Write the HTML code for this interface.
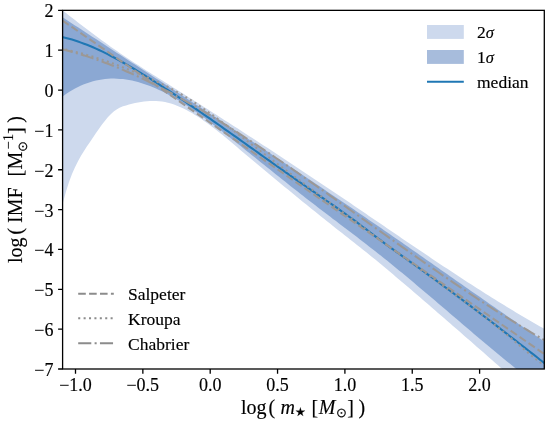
<!DOCTYPE html>
<html><head><meta charset="utf-8"><title>IMF</title>
<style>html,body{margin:0;padding:0;background:#fff;width:550px;height:425px;overflow:hidden}svg{display:block}</style>
</head><body>
<svg width="550" height="425" viewBox="0 0 550 425">
<defs><clipPath id="ax"><rect x="62.6" y="10.35" width="481.7" height="358.65"/></clipPath></defs>
<g clip-path="url(#ax)">
<polygon points="60.0,8.4 63.0,10.8 66.0,13.1 69.0,15.4 72.0,17.7 75.0,20.0 78.0,22.4 81.0,24.7 84.0,26.9 87.0,29.2 90.0,31.5 93.0,33.7 96.0,36.0 99.0,38.2 102.0,40.4 105.0,42.6 108.0,44.8 111.0,46.9 114.0,49.0 117.0,51.1 120.0,53.2 123.0,55.2 126.0,57.3 129.0,59.3 132.0,61.2 135.0,63.2 138.0,65.1 141.0,67.1 144.0,69.0 147.0,70.9 150.0,72.8 153.0,74.7 156.0,76.6 159.0,78.4 162.0,80.3 165.0,82.2 168.0,84.1 171.0,86.0 174.0,87.9 177.0,89.8 180.0,91.7 183.0,93.6 186.0,95.5 189.0,97.4 192.0,99.3 195.0,101.2 198.0,103.1 201.0,105.0 204.0,106.9 207.0,108.8 210.0,110.7 213.0,112.7 216.0,114.6 219.0,116.5 222.0,118.4 225.0,120.4 228.0,122.3 231.0,124.2 234.0,126.2 237.0,128.1 240.0,130.0 243.0,132.0 246.0,133.9 249.0,135.9 252.0,137.8 255.0,139.8 258.0,141.7 261.0,143.7 264.0,145.7 267.0,147.6 270.0,149.6 273.0,151.6 276.0,153.5 279.0,155.5 282.0,157.5 285.0,159.5 288.0,161.5 291.0,163.4 294.0,165.4 297.0,167.4 300.0,169.4 303.0,171.4 306.0,173.4 309.0,175.4 312.0,177.4 315.0,179.4 318.0,181.4 321.0,183.4 324.0,185.4 327.0,187.4 330.0,189.4 333.0,191.5 336.0,193.5 339.0,195.5 342.0,197.5 345.0,199.6 348.0,201.6 351.0,203.6 354.0,205.7 357.0,207.7 360.0,209.7 363.0,211.8 366.0,213.8 369.0,215.9 372.0,217.9 375.0,220.0 378.0,222.0 381.0,224.1 384.0,226.1 387.0,228.2 390.0,230.2 393.0,232.2 396.0,234.3 399.0,236.3 402.0,238.4 405.0,240.4 408.0,242.5 411.0,244.5 414.0,246.5 417.0,248.6 420.0,250.6 423.0,252.6 426.0,254.6 429.0,256.6 432.0,258.7 435.0,260.7 438.0,262.7 441.0,264.7 444.0,266.7 447.0,268.6 450.0,270.6 453.0,272.6 456.0,274.6 459.0,276.5 462.0,278.5 465.0,280.5 468.0,282.4 471.0,284.3 474.0,286.3 477.0,288.2 480.0,290.1 483.0,292.0 486.0,293.9 489.0,295.8 492.0,297.7 495.0,299.6 498.0,301.4 501.0,303.3 504.0,305.1 507.0,307.0 510.0,308.8 513.0,310.6 516.0,312.4 519.0,314.2 522.0,316.0 525.0,317.7 528.0,319.5 531.0,321.2 534.0,323.0 537.0,324.7 540.0,326.4 543.0,328.1 546.0,329.7 549.0,331.4 549.0,410.1 546.0,407.5 543.0,404.8 540.0,402.2 537.0,399.6 534.0,396.9 531.0,394.3 528.0,391.7 525.0,389.0 522.0,386.4 519.0,383.8 516.0,381.1 513.0,378.5 510.0,375.9 507.0,373.2 504.0,370.6 501.0,367.9 498.0,365.3 495.0,362.7 492.0,360.0 489.0,357.4 486.0,354.8 483.0,352.1 480.0,349.5 477.0,346.9 474.0,344.2 471.0,341.6 468.0,339.0 465.0,336.4 462.0,333.7 459.0,331.1 456.0,328.5 453.0,325.9 450.0,323.3 447.0,320.7 444.0,318.1 441.0,315.5 438.0,312.9 435.0,310.3 432.0,307.7 429.0,305.1 426.0,302.5 423.0,299.9 420.0,297.3 417.0,294.7 414.0,292.2 411.0,289.6 408.0,287.1 405.0,284.5 402.0,281.9 399.0,279.4 396.0,276.9 393.0,274.3 390.0,271.8 387.0,269.3 384.0,266.8 381.0,264.3 378.0,261.8 375.0,259.3 372.0,256.9 369.0,254.5 366.0,252.1 363.0,249.7 360.0,247.3 357.0,244.9 354.0,242.6 351.0,240.2 348.0,237.8 345.0,235.5 342.0,233.1 339.0,230.7 336.0,228.4 333.0,226.0 330.0,223.6 327.0,221.2 324.0,218.8 321.0,216.4 318.0,214.0 315.0,211.6 312.0,209.2 309.0,206.8 306.0,204.3 303.0,201.9 300.0,199.5 297.0,197.0 294.0,194.6 291.0,192.1 288.0,189.6 285.0,187.2 282.0,184.7 279.0,182.2 276.0,179.8 273.0,177.3 270.0,174.8 267.0,172.3 264.0,169.8 261.0,167.3 258.0,164.8 255.0,162.3 252.0,159.8 249.0,157.2 246.0,154.7 243.0,152.2 240.0,149.7 237.0,147.1 234.0,144.6 231.0,142.1 228.0,139.6 225.0,137.1 222.0,134.6 219.0,132.2 216.0,129.8 213.0,127.5 210.0,125.2 207.0,123.0 204.0,120.9 201.0,118.8 198.0,116.8 195.0,114.9 192.0,113.1 189.0,111.4 186.0,109.8 183.0,108.3 180.0,106.9 177.0,105.7 174.0,104.5 171.0,103.6 168.0,102.7 165.0,102.1 162.0,101.5 159.0,101.2 156.0,101.0 153.0,100.9 150.0,101.0 147.0,101.2 144.0,101.6 141.0,102.0 138.0,102.5 135.0,103.1 132.0,103.8 129.0,104.6 126.0,105.4 123.0,106.3 120.0,107.5 117.0,109.2 114.0,111.3 111.0,114.0 108.0,117.1 105.0,120.7 102.0,124.5 99.0,128.7 96.0,133.0 93.0,137.4 90.0,141.9 87.0,146.3 84.0,150.9 81.0,155.8 78.0,161.2 75.0,167.2 72.0,174.1 69.0,182.0 66.0,191.4 63.0,202.5 60.0,215.4" fill="#cdd9ed"/>
<polygon points="60.0,15.5 63.0,17.5 66.0,19.5 69.0,21.4 72.0,23.4 75.0,25.4 78.0,27.3 81.0,29.3 84.0,31.3 87.0,33.2 90.0,35.2 93.0,37.2 96.0,39.1 99.0,41.1 102.0,43.1 105.0,45.0 108.0,47.0 111.0,49.0 114.0,50.9 117.0,52.9 120.0,54.8 123.0,56.8 126.0,58.8 129.0,60.7 132.0,62.7 135.0,64.6 138.0,66.6 141.0,68.6 144.0,70.5 147.0,72.5 150.0,74.4 153.0,76.4 156.0,78.4 159.0,80.3 162.0,82.3 165.0,84.2 168.0,86.2 171.0,88.2 174.0,90.1 177.0,92.1 180.0,94.1 183.0,96.0 186.0,98.0 189.0,99.9 192.0,101.9 195.0,103.9 198.0,105.8 201.0,107.8 204.0,109.8 207.0,111.7 210.0,113.7 213.0,115.7 216.0,117.6 219.0,119.6 222.0,121.6 225.0,123.6 228.0,125.5 231.0,127.5 234.0,129.5 237.0,131.5 240.0,133.4 243.0,135.4 246.0,137.4 249.0,139.4 252.0,141.3 255.0,143.3 258.0,145.3 261.0,147.3 264.0,149.3 267.0,151.3 270.0,153.3 273.0,155.2 276.0,157.2 279.0,159.2 282.0,161.2 285.0,163.2 288.0,165.2 291.0,167.2 294.0,169.2 297.0,171.2 300.0,173.2 303.0,175.2 306.0,177.2 309.0,179.3 312.0,181.3 315.0,183.3 318.0,185.3 321.0,187.3 324.0,189.3 327.0,191.4 330.0,193.4 333.0,195.4 336.0,197.4 339.0,199.5 342.0,201.5 345.0,203.5 348.0,205.6 351.0,207.6 354.0,209.6 357.0,211.7 360.0,213.7 363.0,215.8 366.0,217.8 369.0,219.9 372.0,221.9 375.0,224.0 378.0,226.1 381.0,228.1 384.0,230.2 387.0,232.3 390.0,234.3 393.0,236.4 396.0,238.5 399.0,240.6 402.0,242.6 405.0,244.7 408.0,246.8 411.0,248.9 414.0,251.0 417.0,253.1 420.0,255.2 423.0,257.3 426.0,259.4 429.0,261.5 432.0,263.6 435.0,265.7 438.0,267.8 441.0,269.9 444.0,272.0 447.0,274.1 450.0,276.2 453.0,278.3 456.0,280.4 459.0,282.5 462.0,284.6 465.0,286.7 468.0,288.8 471.0,290.9 474.0,292.9 477.0,295.0 480.0,297.1 483.0,299.2 486.0,301.3 489.0,303.4 492.0,305.5 495.0,307.6 498.0,309.7 501.0,311.8 504.0,313.8 507.0,315.9 510.0,318.0 513.0,320.1 516.0,322.1 519.0,324.2 522.0,326.3 525.0,328.3 528.0,330.4 531.0,332.4 534.0,334.5 537.0,336.5 540.0,338.6 543.0,340.6 546.0,342.6 549.0,344.7 549.0,394.1 546.0,391.9 543.0,389.7 540.0,387.4 537.0,385.1 534.0,382.8 531.0,380.5 528.0,378.2 525.0,375.8 522.0,373.4 519.0,371.1 516.0,368.7 513.0,366.3 510.0,363.8 507.0,361.4 504.0,358.9 501.0,356.5 498.0,354.0 495.0,351.5 492.0,349.0 489.0,346.5 486.0,344.0 483.0,341.5 480.0,338.9 477.0,336.4 474.0,333.9 471.0,331.3 468.0,328.8 465.0,326.2 462.0,323.7 459.0,321.1 456.0,318.5 453.0,316.0 450.0,313.4 447.0,310.8 444.0,308.3 441.0,305.7 438.0,303.2 435.0,300.6 432.0,298.1 429.0,295.5 426.0,293.0 423.0,290.4 420.0,287.9 417.0,285.4 414.0,282.8 411.0,280.3 408.0,277.8 405.0,275.3 402.0,272.8 399.0,270.4 396.0,267.9 393.0,265.5 390.0,263.0 387.0,260.6 384.0,258.2 381.0,255.8 378.0,253.4 375.0,251.1 372.0,248.7 369.0,246.4 366.0,244.0 363.0,241.7 360.0,239.4 357.0,237.1 354.0,234.8 351.0,232.5 348.0,230.3 345.0,228.0 342.0,225.7 339.0,223.4 336.0,221.1 333.0,218.9 330.0,216.6 327.0,214.3 324.0,212.0 321.0,209.7 318.0,207.4 315.0,205.1 312.0,202.8 309.0,200.5 306.0,198.2 303.0,195.8 300.0,193.5 297.0,191.1 294.0,188.8 291.0,186.4 288.0,184.0 285.0,181.6 282.0,179.2 279.0,176.8 276.0,174.4 273.0,172.0 270.0,169.6 267.0,167.2 264.0,164.8 261.0,162.4 258.0,160.0 255.0,157.6 252.0,155.2 249.0,152.8 246.0,150.4 243.0,148.0 240.0,145.6 237.0,143.2 234.0,140.8 231.0,138.4 228.0,136.0 225.0,133.7 222.0,131.3 219.0,129.0 216.0,126.7 213.0,124.4 210.0,122.1 207.0,119.8 204.0,117.6 201.0,115.4 198.0,113.3 195.0,111.2 192.0,109.1 189.0,107.1 186.0,105.1 183.0,103.2 180.0,101.3 177.0,99.5 174.0,97.7 171.0,96.0 168.0,94.4 165.0,92.8 162.0,91.3 159.0,89.9 156.0,88.6 153.0,87.3 150.0,86.1 147.0,84.9 144.0,83.9 141.0,82.9 138.0,82.1 135.0,81.3 132.0,80.6 129.0,80.0 126.0,79.5 123.0,79.1 120.0,78.9 117.0,78.7 114.0,78.6 111.0,78.6 108.0,78.8 105.0,79.0 102.0,79.4 99.0,79.9 96.0,80.5 93.0,81.3 90.0,82.2 87.0,83.2 84.0,84.3 81.0,85.6 78.0,87.0 75.0,88.5 72.0,90.2 69.0,92.1 66.0,94.1 63.0,96.2 60.0,98.5" fill="#8ba8d3"/>
<polyline points="60.0,36.7 63.0,37.3 66.0,38.0 69.0,38.8 72.0,39.6 75.0,40.5 78.0,41.5 81.0,42.6 84.0,43.7 87.0,44.8 90.0,46.0 93.0,47.3 96.0,48.6 99.0,50.0 102.0,51.4 105.0,52.9 108.0,54.4 111.0,56.0 114.0,57.5 117.0,59.2 120.0,60.8 123.0,62.5 126.0,64.2 129.0,66.0 132.0,67.7 135.0,69.5 138.0,71.3 141.0,73.1 144.0,75.0 147.0,76.8 150.0,78.7 153.0,80.6 156.0,82.5 159.0,84.4 162.0,86.3 165.0,88.3 168.0,90.2 171.0,92.2 174.0,94.2 177.0,96.2 180.0,98.2 183.0,100.2 186.0,102.2 189.0,104.3 192.0,106.3 195.0,108.4 198.0,110.4 201.0,112.5 204.0,114.6 207.0,116.6 210.0,118.7 213.0,120.8 216.0,122.9 219.0,125.0 222.0,127.1 225.0,129.3 228.0,131.4 231.0,133.5 234.0,135.6 237.0,137.7 240.0,139.9 243.0,142.0 246.0,144.1 249.0,146.3 252.0,148.4 255.0,150.5 258.0,152.7 261.0,154.8 264.0,157.0 267.0,159.1 270.0,161.2 273.0,163.3 276.0,165.5 279.0,167.6 282.0,169.7 285.0,171.8 288.0,173.9 291.0,176.1 294.0,178.2 297.0,180.3 300.0,182.4 303.0,184.4 306.0,186.5 309.0,188.6 312.0,190.7 315.0,192.7 318.0,194.8 321.0,196.8 324.0,198.9 327.0,201.0 330.0,203.0 333.0,205.1 336.0,207.2 339.0,209.3 342.0,211.5 345.0,213.6 348.0,215.8 351.0,218.0 354.0,220.2 357.0,222.4 360.0,224.7 363.0,227.0 366.0,229.2 369.0,231.5 372.0,233.8 375.0,236.1 378.0,238.4 381.0,240.6 384.0,242.9 387.0,245.1 390.0,247.3 393.0,249.4 396.0,251.6 399.0,253.7 402.0,255.8 405.0,258.0 408.0,260.1 411.0,262.3 414.0,264.4 417.0,266.6 420.0,268.7 423.0,270.9 426.0,273.1 429.0,275.3 432.0,277.5 435.0,279.7 438.0,281.9 441.0,284.1 444.0,286.3 447.0,288.5 450.0,290.7 453.0,292.9 456.0,295.2 459.0,297.4 462.0,299.6 465.0,301.9 468.0,304.1 471.0,306.4 474.0,308.7 477.0,310.9 480.0,313.2 483.0,315.5 486.0,317.8 489.0,320.0 492.0,322.3 495.0,324.6 498.0,326.9 501.0,329.2 504.0,331.6 507.0,333.9 510.0,336.2 513.0,338.5 516.0,340.8 519.0,343.2 522.0,345.5 525.0,347.9 528.0,350.2 531.0,352.6 534.0,354.9 537.0,357.3 540.0,359.7 543.0,362.0 546.0,364.4 549.0,366.8" fill="none" stroke="#1f77b4" stroke-width="2.05" stroke-linejoin="round"/>
<polyline points="62.5,20.5 544.0,353.8" fill="none" stroke="#9c9895" stroke-width="2.05" stroke-dasharray="7.6,3.3"/>
<polyline points="60.0,48.3 63.0,49.0 66.0,49.6 69.0,50.3 72.0,51.0 75.0,51.8 78.0,52.5 81.0,53.3 84.0,54.1 87.0,55.0 90.0,55.8 93.0,56.7 96.0,57.7 99.0,58.6 102.0,59.6 105.0,60.7 108.0,61.7 111.0,62.8 114.0,63.9 117.0,65.0 120.0,66.2 123.0,67.4 126.0,68.6 129.0,69.8 132.0,71.0 135.0,72.2 138.0,73.5 141.0,74.8 144.0,76.0 147.0,77.3 150.0,78.6 153.0,79.9 156.0,81.3 159.0,82.7 162.0,84.1 165.0,85.5 168.0,87.0 171.0,88.6 174.0,90.2 177.0,91.8 180.0,93.5 183.0,95.3 186.0,97.2 189.0,99.0 192.0,100.9 195.0,102.9 198.0,104.9 201.0,107.0 204.0,109.0 207.0,111.1 210.0,113.3 213.0,115.4 216.0,117.6 219.0,119.8 222.0,122.0 225.0,124.2 228.0,126.5 231.0,128.7 234.0,131.0 237.0,133.2 240.0,135.5 243.0,137.8 246.0,140.1 249.0,142.3 252.0,144.6 255.0,146.9 258.0,149.2 261.0,151.5 264.0,153.8 267.0,156.0 270.0,158.3 273.0,160.6 276.0,162.8 279.0,165.1 282.0,167.3 285.0,169.6 288.0,171.8 291.0,174.0 294.0,176.2 297.0,178.5 300.0,180.7 303.0,182.9 306.0,185.1 309.0,187.3 312.0,189.5 315.0,191.8 318.0,194.0 321.0,196.2 324.0,198.4 327.0,200.6 330.0,202.8 333.0,205.1 336.0,207.3 339.0,209.5 342.0,211.7 345.0,213.9 348.0,216.1 351.0,218.4 354.0,220.6 357.0,222.8 360.0,225.0 363.0,227.2 366.0,229.4 369.0,231.6 372.0,233.8 375.0,236.1 378.0,238.3 381.0,240.5 384.0,242.7 387.0,244.9 390.0,247.1 393.0,249.3 396.0,251.5 399.0,253.7 402.0,255.9 405.0,258.1 408.0,260.3 411.0,262.5 414.0,264.7 417.0,266.9 420.0,269.1 423.0,271.3 426.0,273.5 429.0,275.6 432.0,277.8 435.0,280.0 438.0,282.2 441.0,284.4 444.0,286.6 447.0,288.8 450.0,291.0 453.0,293.2 456.0,295.4 459.0,297.6 462.0,299.8 465.0,302.0 468.0,304.3 471.0,306.5 474.0,308.8 477.0,311.1 480.0,313.4 483.0,315.7 486.0,318.0 489.0,320.3 492.0,322.7 495.0,325.1 498.0,327.5 501.0,329.9 504.0,332.3 507.0,334.8 510.0,337.3 513.0,339.8 516.0,342.4 519.0,344.9 522.0,347.5 525.0,350.1 528.0,352.6 531.0,355.1 534.0,357.6 537.0,359.9 540.0,362.2 543.0,364.4 546.0,366.4 549.0,368.3" fill="none" stroke="#9c9895" stroke-width="2.05" stroke-dasharray="2.05,3.35"/>
<polyline points="60.0,48.8 63.0,49.5 66.0,50.3 69.0,51.0 72.0,51.9 75.0,52.7 78.0,53.6 81.0,54.5 84.0,55.4 87.0,56.4 90.0,57.4 93.0,58.4 96.0,59.4 99.0,60.5 102.0,61.6 105.0,62.7 108.0,63.8 111.0,65.0 114.0,66.2 117.0,67.4 120.0,68.6 123.0,69.9 126.0,71.2 129.0,72.5 132.0,73.8 135.0,75.2 138.0,76.5 141.0,77.9 144.0,79.4 147.0,80.8 150.0,82.3 153.0,83.7 156.0,85.2 159.0,86.8 162.0,88.3 165.0,89.9 168.0,91.4 171.0,93.0 174.0,94.6 177.0,96.3 180.0,97.9 183.0,99.6 186.0,101.3 189.0,103.0 192.0,104.7 195.0,106.4 198.0,108.2 201.0,109.9 204.0,111.7 207.0,113.5 210.0,115.3 213.0,117.1 216.0,118.9 219.0,120.8 222.0,122.7 225.0,124.5 228.0,126.4 231.0,128.3 234.0,130.2 237.0,132.1 240.0,134.1 243.0,136.0 246.0,138.0 249.0,139.9 252.0,141.9 255.0,143.9 258.0,145.9 261.0,147.9 264.0,149.9 267.0,151.9 270.0,153.9 273.0,155.9 276.0,158.0 279.0,160.0 282.0,162.0 285.0,164.1 288.0,166.2 291.0,168.2 294.0,170.3 297.0,172.4 300.0,174.5 303.0,176.6 306.0,178.7 309.0,180.8 312.0,182.9 315.0,185.0 318.0,187.1 321.0,189.2 324.0,191.3 327.0,193.4 330.0,195.6 333.0,197.7 336.0,199.8 339.0,202.0 342.0,204.1 345.0,206.2 348.0,208.4 351.0,210.5 354.0,212.6 357.0,214.8 360.0,216.9 363.0,219.1 366.0,221.2 369.0,223.3 372.0,225.5 375.0,227.6 378.0,229.8 381.0,231.9 384.0,234.0 387.0,236.2 390.0,238.3 393.0,240.4 396.0,242.6 399.0,244.7 402.0,246.8 405.0,248.9 408.0,251.1 411.0,253.2 414.0,255.3 417.0,257.4 420.0,259.5 423.0,261.6 426.0,263.7 429.0,265.8 432.0,267.9 435.0,269.9 438.0,272.0 441.0,274.1 444.0,276.2 447.0,278.2 450.0,280.3 453.0,282.3 456.0,284.3 459.0,286.4 462.0,288.4 465.0,290.4 468.0,292.4 471.0,294.4 474.0,296.4 477.0,298.4 480.0,300.3 483.0,302.3 486.0,304.3 489.0,306.2 492.0,308.1 495.0,310.1 498.0,312.0 501.0,313.9 504.0,315.8 507.0,317.6 510.0,319.5 513.0,321.4 516.0,323.2 519.0,325.1 522.0,326.9 525.0,328.7 528.0,330.5 531.0,332.3 534.0,334.1 537.0,335.8 540.0,337.6 543.0,339.3 546.0,341.0 549.0,342.7" fill="none" stroke="#9c9895" stroke-width="2.05" stroke-dasharray="13.1,3.3,2.05,3.3"/>
</g>
<rect x="62.6" y="10.35" width="481.69999999999993" height="358.65" fill="none" stroke="#000" stroke-width="1.3"/>
<path d="M58.1,369.00H62.6M58.1,329.15H62.6M58.1,289.30H62.6M58.1,249.45H62.6M58.1,209.60H62.6M58.1,169.75H62.6M58.1,129.90H62.6M58.1,90.05H62.6M58.1,50.20H62.6M58.1,10.35H62.6M75.50,369.0V373.7M142.85,369.0V373.7M210.20,369.0V373.7M277.55,369.0V373.7M344.90,369.0V373.7M412.25,369.0V373.7M479.60,369.0V373.7" stroke="#000" stroke-width="1.3" fill="none"/>
<text x="53.5" y="376.0" font-family="Liberation Serif, Times New Roman, serif" stroke="#000" stroke-width="0.15" font-size="18" text-anchor="end">−7</text>
<text x="53.5" y="336.1" font-family="Liberation Serif, Times New Roman, serif" stroke="#000" stroke-width="0.15" font-size="18" text-anchor="end">−6</text>
<text x="53.5" y="296.3" font-family="Liberation Serif, Times New Roman, serif" stroke="#000" stroke-width="0.15" font-size="18" text-anchor="end">−5</text>
<text x="53.5" y="256.4" font-family="Liberation Serif, Times New Roman, serif" stroke="#000" stroke-width="0.15" font-size="18" text-anchor="end">−4</text>
<text x="53.5" y="216.6" font-family="Liberation Serif, Times New Roman, serif" stroke="#000" stroke-width="0.15" font-size="18" text-anchor="end">−3</text>
<text x="53.5" y="176.7" font-family="Liberation Serif, Times New Roman, serif" stroke="#000" stroke-width="0.15" font-size="18" text-anchor="end">−2</text>
<text x="53.5" y="136.9" font-family="Liberation Serif, Times New Roman, serif" stroke="#000" stroke-width="0.15" font-size="18" text-anchor="end">−1</text>
<text x="53.5" y="97.0" font-family="Liberation Serif, Times New Roman, serif" stroke="#000" stroke-width="0.15" font-size="18" text-anchor="end">0</text>
<text x="53.5" y="57.2" font-family="Liberation Serif, Times New Roman, serif" stroke="#000" stroke-width="0.15" font-size="18" text-anchor="end">1</text>
<text x="53.5" y="17.4" font-family="Liberation Serif, Times New Roman, serif" stroke="#000" stroke-width="0.15" font-size="18" text-anchor="end">2</text>
<text x="75.5" y="391" font-family="Liberation Serif, Times New Roman, serif" stroke="#000" stroke-width="0.15" font-size="18" text-anchor="middle">−1.0</text>
<text x="142.8" y="391" font-family="Liberation Serif, Times New Roman, serif" stroke="#000" stroke-width="0.15" font-size="18" text-anchor="middle">−0.5</text>
<text x="210.2" y="391" font-family="Liberation Serif, Times New Roman, serif" stroke="#000" stroke-width="0.15" font-size="18" text-anchor="middle">0.0</text>
<text x="277.5" y="391" font-family="Liberation Serif, Times New Roman, serif" stroke="#000" stroke-width="0.15" font-size="18" text-anchor="middle">0.5</text>
<text x="344.9" y="391" font-family="Liberation Serif, Times New Roman, serif" stroke="#000" stroke-width="0.15" font-size="18" text-anchor="middle">1.0</text>
<text x="412.2" y="391" font-family="Liberation Serif, Times New Roman, serif" stroke="#000" stroke-width="0.15" font-size="18" text-anchor="middle">1.5</text>
<text x="479.6" y="391" font-family="Liberation Serif, Times New Roman, serif" stroke="#000" stroke-width="0.15" font-size="18" text-anchor="middle">2.0</text>
<text x="241" y="414" font-family="Liberation Serif, Times New Roman, serif" stroke="#000" stroke-width="0.15" font-size="20">log</text>
<text x="268.6" y="414" font-family="Liberation Serif, Times New Roman, serif" stroke="#000" stroke-width="0.15" font-size="20">(</text>
<text x="280.5" y="414" font-family="Liberation Serif, Times New Roman, serif" stroke="#000" stroke-width="0.15" font-size="20" font-style="italic">m</text>
<text x="295.4" y="415.7" font-family="Liberation Serif, Times New Roman, serif" stroke="#000" stroke-width="0.15" font-size="12">★</text>
<text x="311.5" y="414" font-family="Liberation Serif, Times New Roman, serif" stroke="#000" stroke-width="0.15" font-size="20">[</text>
<text x="318.8" y="414" font-family="Liberation Serif, Times New Roman, serif" stroke="#000" stroke-width="0.15" font-size="20" font-style="italic">M</text>
<text x="335.6" y="416.6" font-family="Liberation Serif, Times New Roman, serif" stroke="#000" stroke-width="0.15" font-size="13">⊙</text>
<text x="347.3" y="414" font-family="Liberation Serif, Times New Roman, serif" stroke="#000" stroke-width="0.15" font-size="20">]</text>
<text x="358.6" y="414" font-family="Liberation Serif, Times New Roman, serif" stroke="#000" stroke-width="0.15" font-size="20">)</text>
<g transform="translate(22.3,263) rotate(-90)">
<text x="0" y="0" font-family="Liberation Serif, Times New Roman, serif" stroke="#000" stroke-width="0.15" font-size="20">log</text>
<text x="28.5" y="0" font-family="Liberation Serif, Times New Roman, serif" stroke="#000" stroke-width="0.15" font-size="20">(</text>
<text x="40" y="0" font-family="Liberation Serif, Times New Roman, serif" stroke="#000" stroke-width="0.15" font-size="20">IMF</text>
<text x="86.5" y="0" font-family="Liberation Serif, Times New Roman, serif" stroke="#000" stroke-width="0.15" font-size="20">[</text>
<text x="93.5" y="0" font-family="Liberation Serif, Times New Roman, serif" stroke="#000" stroke-width="0.15" font-size="20">M</text>
<text x="111.5" y="4.9" font-family="Liberation Serif, Times New Roman, serif" stroke="#000" stroke-width="0.15" font-size="13">⊙</text>
<text x="114" y="-9.5" font-family="Liberation Serif, Times New Roman, serif" stroke="#000" stroke-width="0.15" font-size="14">−1</text>
<text x="129" y="0" font-family="Liberation Serif, Times New Roman, serif" stroke="#000" stroke-width="0.15" font-size="20">]</text>
<text x="140.3" y="0" font-family="Liberation Serif, Times New Roman, serif" stroke="#000" stroke-width="0.15" font-size="20">)</text>
</g>
<rect x="427" y="25" width="36.8" height="13.9" fill="#cdd9ed"/>
<rect x="427" y="50" width="36.8" height="13.9" fill="#a7bcdc"/>
<line x1="427" y1="81.7" x2="463.8" y2="81.7" stroke="#1f77b4" stroke-width="2.05"/>
<text x="477" y="37.8" font-family="Liberation Serif, Times New Roman, serif" stroke="#000" stroke-width="0.15" font-size="17.5">2<tspan font-style="italic" font-size="16.5">σ</tspan></text>
<text x="477" y="62.8" font-family="Liberation Serif, Times New Roman, serif" stroke="#000" stroke-width="0.15" font-size="17.5">1<tspan font-style="italic" font-size="16.5">σ</tspan></text>
<text x="477" y="87.5" font-family="Liberation Serif, Times New Roman, serif" stroke="#000" stroke-width="0.15" font-size="17.5">median</text>
<line x1="78.2" y1="293.8" x2="113.8" y2="293.8" stroke="#8c8c8c" stroke-width="2.05" stroke-dasharray="7.6,3.3"/>
<line x1="78.2" y1="318.3" x2="113.8" y2="318.3" stroke="#8c8c8c" stroke-width="2.05" stroke-dasharray="2.05,3.35"/>
<line x1="78.2" y1="343.3" x2="113.8" y2="343.3" stroke="#8c8c8c" stroke-width="2.05" stroke-dasharray="13.1,3.3,2.05,3.3"/>
<text x="128" y="299.5" font-family="Liberation Serif, Times New Roman, serif" stroke="#000" stroke-width="0.15" font-size="17.5">Salpeter</text>
<text x="128" y="324.5" font-family="Liberation Serif, Times New Roman, serif" stroke="#000" stroke-width="0.15" font-size="17.5">Kroupa</text>
<text x="128" y="349.5" font-family="Liberation Serif, Times New Roman, serif" stroke="#000" stroke-width="0.15" font-size="17.5">Chabrier</text>
</svg>
</body></html>
